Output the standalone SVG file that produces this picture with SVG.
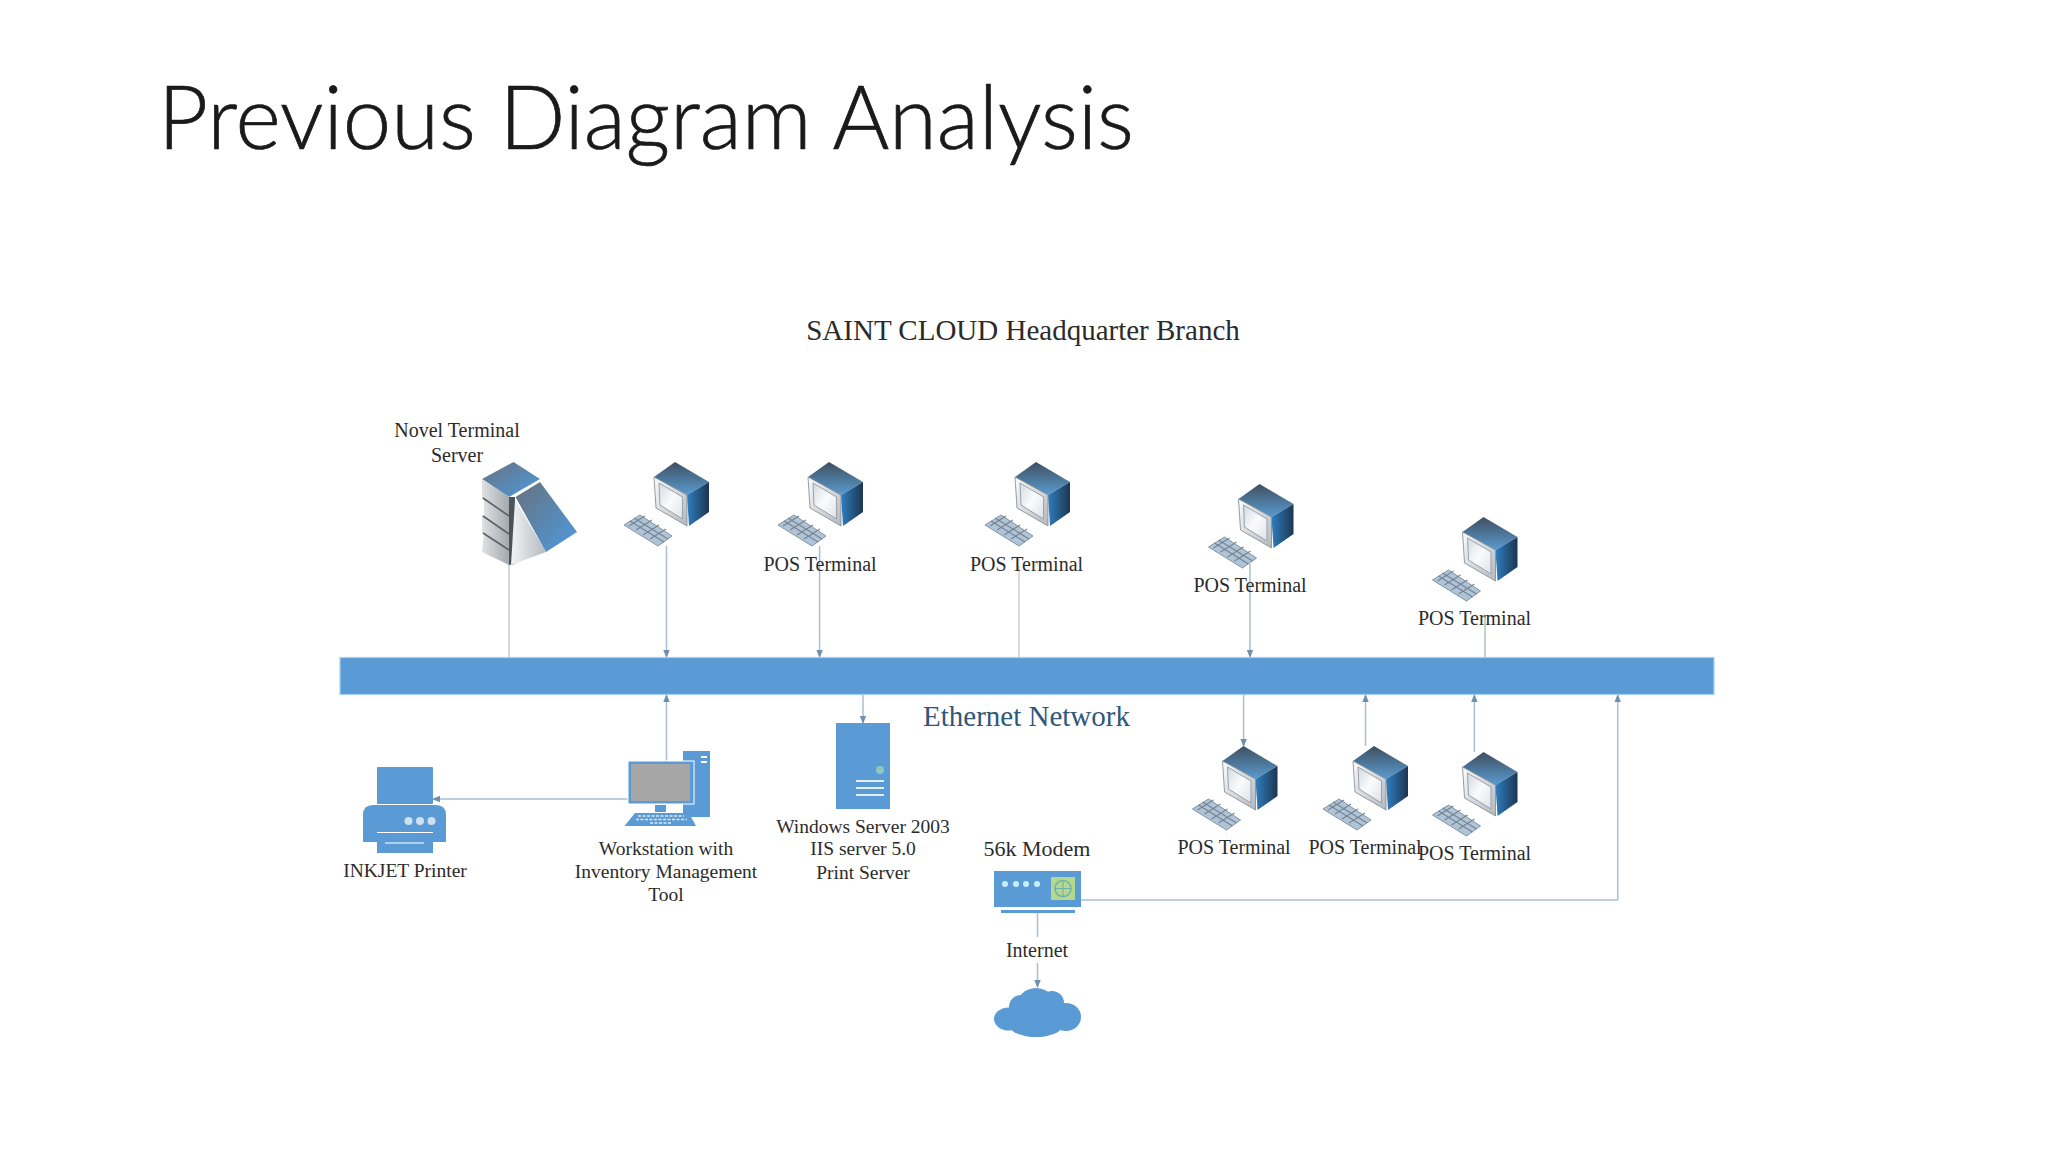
<svg xmlns="http://www.w3.org/2000/svg" width="2048" height="1152" viewBox="0 0 2048 1152">
<style>
.t{font-family:"Liberation Serif","Times New Roman",serif;font-size:20px;fill:#2b2b2b;text-anchor:middle}
.s{font-size:19.5px}
.title{font-family:Lato,"Noto Sans",sans-serif;font-weight:300;font-size:88px;fill:#1a1a1a;stroke:#1a1a1a;stroke-width:.7}
.c{fill:none;stroke:#a9bfd0;stroke-width:1.5}
.a{marker-end:url(#arr)}
.b{fill:#5b9bd5}
.soft{filter:url(#soft)}
</style>
<defs>
<filter id="soft" x="-5%" y="-5%" width="110%" height="110%"><feGaussianBlur stdDeviation=".5"/></filter>
<marker id="arr" viewBox="0 0 8 8" refX="7" refY="4" markerWidth="8" markerHeight="8" markerUnits="userSpaceOnUse" orient="auto"><path d="M0 0.8L8 4L0 7.2z" fill="#6f8fae"/></marker>
<linearGradient id="top" x1="0" y1="0" x2="0" y2="1"><stop offset="0" stop-color="#3f4f60"/><stop offset="1" stop-color="#5a9bd0"/></linearGradient>
<linearGradient id="side" x1="0" y1="0" x2="1" y2="0"><stop offset="0" stop-color="#2f7ec0"/><stop offset="1" stop-color="#1d3550"/></linearGradient>
<linearGradient id="front" x1="0" y1="0" x2="1" y2="1"><stop offset="0" stop-color="#fafbfc"/><stop offset="1" stop-color="#b4b9bf"/></linearGradient>
<linearGradient id="scr" x1="0" y1="0" x2="1" y2="1"><stop offset="0" stop-color="#d4dae0"/><stop offset=".5" stop-color="#fafbfd"/><stop offset="1" stop-color="#dde0e6"/></linearGradient>
<linearGradient id="ramp" x1="0" y1="0" x2="1" y2="1"><stop offset="0" stop-color="#68727e"/><stop offset="1" stop-color="#4d9ade"/></linearGradient>
<linearGradient id="wedge" x1="0" y1="0" x2="1" y2="0"><stop offset="0" stop-color="#f2f3f4"/><stop offset="1" stop-color="#b5b9bd"/></linearGradient>
<linearGradient id="blk" x1="0" y1="0" x2="1" y2="0"><stop offset="0" stop-color="#dfe1e3"/><stop offset="1" stop-color="#a4a9ae"/></linearGradient>
<g id="pc" class="soft">
<path d="M21 0L0 15L33 33L55 20z" fill="url(#top)"/>
<path d="M33 33L55 20V50L35 64z" fill="url(#side)"/>
<path d="M0 15L33 33V64L2 46z" fill="url(#front)" stroke="#7d858d" stroke-width=".8"/>
<path d="M5 21L28.5 35V57L6 43z" fill="url(#scr)" stroke="#9ba1a8" stroke-linejoin="round"/>
<path d="M-30 63L-14 53L18 74L4 84z" fill="#afc4d8" stroke="#8393a3"/>
<path d="M-24 59L10 80M-20 56L14 77M-25 64L-9 54M-18 68L-2 58M-11 73L5 63M-4 77L12 67" stroke="#75838f" stroke-width="1.1" fill="none"/>
</g>
</defs>
<rect width="2048" height="1152" fill="#fff"/>
<text class="title" x="158" y="149" textLength="976" lengthAdjust="spacingAndGlyphs">Previous Diagram Analysis</text>
<text class="t" x="1023" y="340" style="font-size:29px">SAINT CLOUD Headquarter Branch</text>

<g id="connectors">
<path class="c" d="M509 565V657" style="stroke:#c9cdc8"/>
<path class="c a" d="M666.5 546V657"/>
<path class="c a" d="M819.6 546V657"/>
<path class="c" d="M1019 566V657" style="stroke:#cfd0c4"/>
<path class="c a" d="M1250 564V657"/>
<path class="c" d="M1485 617V657" style="stroke:#a9c4c0"/>
<path class="c a" d="M666.5 761V695"/>
<path class="c a" d="M863 695V723"/>
<path class="c a" d="M628 799H433"/>
<path class="c a" d="M1243.6 695V746"/>
<path class="c a" d="M1365.5 746V695"/>
<path class="c a" d="M1474.4 752V695"/>
<path class="c a" d="M1081 900H1617.7V695"/>
<path class="c" d="M1037.5 912V937"/>
<path class="c a" d="M1037.5 963V987"/>
</g>

<g id="ethernet"><rect x="340" y="657.5" width="1374" height="37" class="b" stroke="#a5d0f0" stroke-width="1.2"/>
<text class="t" x="1026.5" y="726" style="font-size:29px;fill:#2f5878">Ethernet Network</text></g>

<g id="novel-server">
<g class="soft">
<path d="M513.5 462L482 479L509 497L540 479z" fill="url(#ramp)"/>
<path d="M482 479L509 497V517L482 499z" fill="url(#blk)"/>
<path d="M484 499L509 516V534L484 517z" fill="url(#blk)"/>
<path d="M482 515L509 533V551L482 533z" fill="url(#blk)"/>
<path d="M484 533L509 550V565L482 552z" fill="url(#blk)"/>
<path d="M483 498L509 516M483 516L509 534M483 533L509 550" stroke="#59636c" stroke-width="1.6" fill="none"/>
<path d="M509 497L515 497V564L509 565z" fill="#4a525a"/>
<path d="M515 500L546 552L511 565z" fill="url(#wedge)"/>
<path d="M515.5 497L540 482L577 532L546 552z" fill="url(#ramp)"/>
</g>
<text class="t" x="457" y="437">Novel Terminal</text><text class="t" x="457" y="462">Server</text>
</g>
<g id="terminal-1"><use href="#pc" x="654" y="462"/></g>
<g id="terminal-2"><use href="#pc" x="808" y="462"/><text class="t" x="820" y="571">POS Terminal</text></g>
<g id="terminal-3"><use href="#pc" x="1015" y="462"/><text class="t" x="1026.5" y="571">POS Terminal</text></g>
<g id="terminal-4"><use href="#pc" x="1238.5" y="484"/><text class="t" x="1250" y="592">POS Terminal</text></g>
<g id="terminal-5"><use href="#pc" x="1462.5" y="517"/><text class="t" x="1474.5" y="625">POS Terminal</text></g>
<g id="terminal-6"><use href="#pc" x="1222.5" y="746"/><text class="t" x="1234" y="854">POS Terminal</text></g>
<g id="terminal-7"><use href="#pc" x="1353" y="746"/><text class="t" x="1365" y="854">POS Terminal</text></g>
<g id="terminal-8"><use href="#pc" x="1462.5" y="752"/><text class="t" x="1474.5" y="860">POS Terminal</text></g>

<g id="printer">
<rect x="377" y="767" width="56" height="37" rx="1" class="b"/>
<path d="M363 815Q363 805 373 805H436Q446 805 446 815V842H433V832H377V842H363z" class="b"/>
<rect x="377" y="833" width="56" height="20" class="b"/>
<path d="M385 843H424" stroke="#cfe0f0" stroke-width="1.5"/>
<circle cx="408.5" cy="821" r="4" fill="#cfe0f0"/><circle cx="420" cy="821" r="4" fill="#cfe0f0"/><circle cx="431.5" cy="821" r="4" fill="#cfe0f0"/>
<text class="t s" x="405" y="877">INKJET Printer</text>
</g>

<g id="workstation">
<rect x="683" y="751" width="27" height="66" class="b"/>
<path d="M701 757H707M701 762H707" stroke="#fff" stroke-width="2"/>
<rect x="628" y="761" width="66" height="43" class="b" stroke="#fff" stroke-width="1"/>
<rect x="631" y="764" width="59" height="37" fill="#a6a6a6"/>
<rect x="655" y="805" width="11" height="7" class="b"/>
<path d="M635 813H689L696 826H624.5z" class="b"/>
<path d="M638 816H684M636 819.5H687M650 823H672" stroke="#dbe8f4" stroke-width="1.6" stroke-dasharray="3 1.5"/>
<text class="t s" x="666" y="855">Workstation with</text><text class="t s" x="666" y="878">Inventory Management</text><text class="t s" x="666" y="901">Tool</text>
</g>

<g id="windows-server">
<rect x="836" y="723" width="54" height="86" class="b"/>
<circle cx="880" cy="770" r="4" fill="#8fc7c0"/>
<path d="M856 781H884M856 788H884M856 795H884" stroke="#e4eef7" stroke-width="2"/>
<text class="t s" x="863" y="833">Windows Server 2003</text><text class="t s" x="863" y="855">IIS server 5.0</text><text class="t s" x="863" y="879">Print Server</text>
</g>

<g id="modem">
<rect x="994" y="871" width="87" height="36" class="b"/>
<path d="M1001 911.5H1075" stroke="#5b9bd5" stroke-width="3"/>
<circle cx="1005" cy="884" r="3" fill="#c4f0ff"/><circle cx="1016" cy="884" r="3" fill="#c4f0ff"/><circle cx="1026" cy="884" r="3" fill="#c4f0ff"/><circle cx="1037" cy="884" r="3" fill="#c4f0ff"/>
<rect x="1051" y="877" width="24" height="23" fill="#b5d88f"/>
<circle cx="1063" cy="888.5" r="8" fill="none" stroke="#6fb0a8" stroke-width="1.5"/>
<path d="M1055 888.5H1071M1063 880.5V896.5" stroke="#6fb0a8" stroke-width="1"/>
<text class="t" x="1037" y="856" style="font-size:22px">56k Modem</text>
</g>

<g id="internet">
<text class="t" x="1037" y="957">Internet</text>
<g class="b">
<circle cx="1036" cy="1008" r="20"/><circle cx="1021" cy="1007" r="12"/><circle cx="1052" cy="1003" r="12"/>
<ellipse cx="1009" cy="1019" rx="15" ry="11.5"/><ellipse cx="1066" cy="1017" rx="15" ry="14"/>
<ellipse cx="1036" cy="1026" rx="26" ry="11"/>
</g>
</g>
</svg>
